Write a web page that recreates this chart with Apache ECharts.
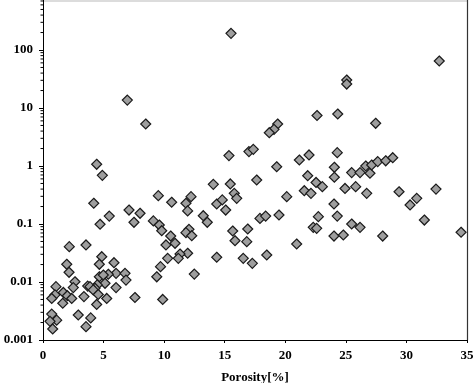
<!DOCTYPE html>
<html>
<head>
<meta charset="utf-8">
<script src="https://cdn.jsdelivr.net/npm/echarts@6/dist/echarts.min.js"></script>
<style>
html,body{margin:0;padding:0;background:#fff;}
#chart{width:474px;height:383px;}
</style>
</head>
<body>
<div id="chart"></div>
<script>
// Porosity [%]
const porosity = [
6.96,8.48,15.52,32.71,25.07,25.07,22.62,24.33,27.46,19.37,19.07,18.68,
15.35,17.0,17.36,21.96,21.16,24.29,19.29,24.05,24.05,25.48,26.17,26.99,
26.64,27.13,27.63,28.29,28.87,21.85,22.54,23.06,21.57,22.12,24.93,25.81,
26.72,29.39,20.12,17.64,24.02,32.44,30.85,30.30,31.48,34.51,4.43,4.90,
4.19,14.06,15.46,15.79,15.99,9.52,10.62,12.22,11.80,11.94,14.34,14.80,
15.08,13.23,13.56,7.10,8.01,7.51,9.11,9.60,9.80,10.54,10.90,10.15,
12.05,11.80,12.28,11.94,11.31,11.17,10.29,15.66,16.90,15.85,16.82,14.34,
16.53,17.91,18.38,19.48,22.73,24.29,22.31,22.59,25.48,26.17,24.02,24.79,
28.04,20.94,4.71,5.47,2.17,3.55,4.85,4.65,5.86,1.96,2.15,6.03,
5.39,4.65,4.98,6.77,6.85,5.12,4.48,4.29,3.69,2.64,2.50,1.07,
1.68,2.01,0.99,0.72,1.63,2.37,3.38,3.88,4.15,4.56,5.26,6.03,
4.43,2.91,3.94,3.55,0.72,1.13,0.58,0.80,7.59,9.39,9.70,9.88,
12.49,17.28,18.47
];
// Permeability [mD]
const permeability = [
13.7,5.3,194,64.6,30.4,25.9,7.43,7.88,5.45,5.3,4.29,3.75,
1.51,1.77,1.94,1.55,1.27,1.70,0.97,0.95,0.64,0.77,0.77,0.75,
1.0,1.04,1.19,1.23,1.39,0.68,0.52,0.44,0.375,0.338,0.41,0.44,
0.338,0.36,0.296,0.574,0.221,0.40,0.277,0.213,0.117,0.072,1.07,0.69,
0.228,0.483,0.49,0.338,0.277,0.308,0.237,0.296,0.228,0.168,0.221,0.26,
0.174,0.139,0.107,0.174,0.153,0.107,0.113,0.096,0.0766,0.062,0.0465,0.0435,
0.081,0.0708,0.0628,0.0313,0.0304,0.0256,0.0256,0.0757,0.082,0.0515,0.0496,0.0267,
0.0256,0.125,0.137,0.143,0.134,0.137,0.0877,0.0843,0.1,0.0877,0.062,0.0646,
0.062,0.0452,0.099,0.137,0.0407,0.0435,0.0273,0.0202,0.0215,0.0202,0.0147,0.0141,
0.0136,0.0123,0.0132,0.0141,0.0108,0.0095,0.0089,0.0078,0.0085,0.0101,0.008,0.0083,
0.0066,0.0058,0.006,0.0052,0.0043,0.0052,0.0056,0.0083,0.0073,0.0061,0.0052,0.008,
0.0041,0.0027,0.0024,0.0017,0.0028,0.0022,0.0021,0.00155,0.0054,0.0123,0.0184,0.005,
0.0137,0.021,0.0292
];
const xTickLabels = ['0','5','10','15','20','25','30','35'];
const yTickLabels = ['0.001','0.01','0.1','1','10','100'];
const yMinorMultipliers = [2,3,4,5,6,7,8,9];
const yDecades = [0.001,0.01,0.1,1,10,100];

const points = porosity.map((x,i)=>[x, permeability[i]]);
const minorTicks = [];
yDecades.forEach(d=>yMinorMultipliers.forEach(m=>minorTicks.push([0, d*m])));

const font = '"Liberation Serif", "Times New Roman", serif';
const chart = echarts.init(document.getElementById('chart'), null, {renderer:'canvas'});
chart.setOption({
  backgroundColor:'#fff',
  animation:false,
  grid:{left:43, right:7, top:-8, bottom:43, containLabel:false, outerBoundsMode:'none'},
  xAxis:[{
    type:'value', min:0, max:35, interval:5,
    name:'Porosity[%]', nameLocation:'middle', nameGap:31,
    nameTextStyle:{fontFamily:font, fontWeight:'bold', fontSize:13, color:'#000'},
    axisLine:{show:true, lineStyle:{color:'#000', width:1}},
    axisTick:{show:true, inside:false, length:3, lineStyle:{color:'#000'}},
    axisLabel:{fontFamily:font, fontWeight:'bold', fontSize:13, color:'#000', margin:9,
      formatter:(v)=>xTickLabels[Math.round(v/5)] ?? ''},
    splitLine:{show:false}
  }],
  yAxis:[{
    type:'log', logBase:10, min:0.001, max:1000,
    name:'Permeability [mD]', nameLocation:'middle', nameGap:31,
    nameTextStyle:{fontFamily:font, fontWeight:'bold', fontSize:13, color:'#000'},
    axisLine:{show:true, lineStyle:{color:'#000', width:1}},
    axisTick:{show:true, inside:false, length:4, lineStyle:{color:'#000'}},
    axisLabel:{fontFamily:font, fontWeight:'bold', fontSize:13, color:'#000', margin:10,
      formatter:(v)=>{const k=Math.round(Math.log10(v))+3; return yTickLabels[k] ?? '';}},
    splitLine:{show:false}
  },{
    type:'value', position:'right', min:0, max:1,
    axisLine:{show:true, lineStyle:{color:'#333', width:1.2}},
    axisTick:{show:false}, axisLabel:{show:false}, splitLine:{show:false}
  }],
  graphic:[{
    type:'line', shape:{x1:43, y1:1, x2:467, y2:1},
    style:{stroke:'#dcdcdc', lineWidth:2}, silent:true
  }],
  series:[{
    type:'custom',
    clip:false,
    silent:true,
    data:minorTicks,
    renderItem:(params, api)=>{
      const p = api.coord([api.value(0), api.value(1)]);
      if (p[1] < 0) return null;
      return {type:'line', shape:{x1:p[0]-2.5, y1:p[1], x2:p[0], y2:p[1]},
        style:{stroke:'#000', lineWidth:1}};
    }
  },{
    type:'scatter',
    symbol:'diamond',
    symbolSize:10,
    data:points,
    itemStyle:{color:'#9e9e9e', borderColor:'#1a1a1a', borderWidth:1.2, opacity:1}
  }]
});
</script>
</body>
</html>
